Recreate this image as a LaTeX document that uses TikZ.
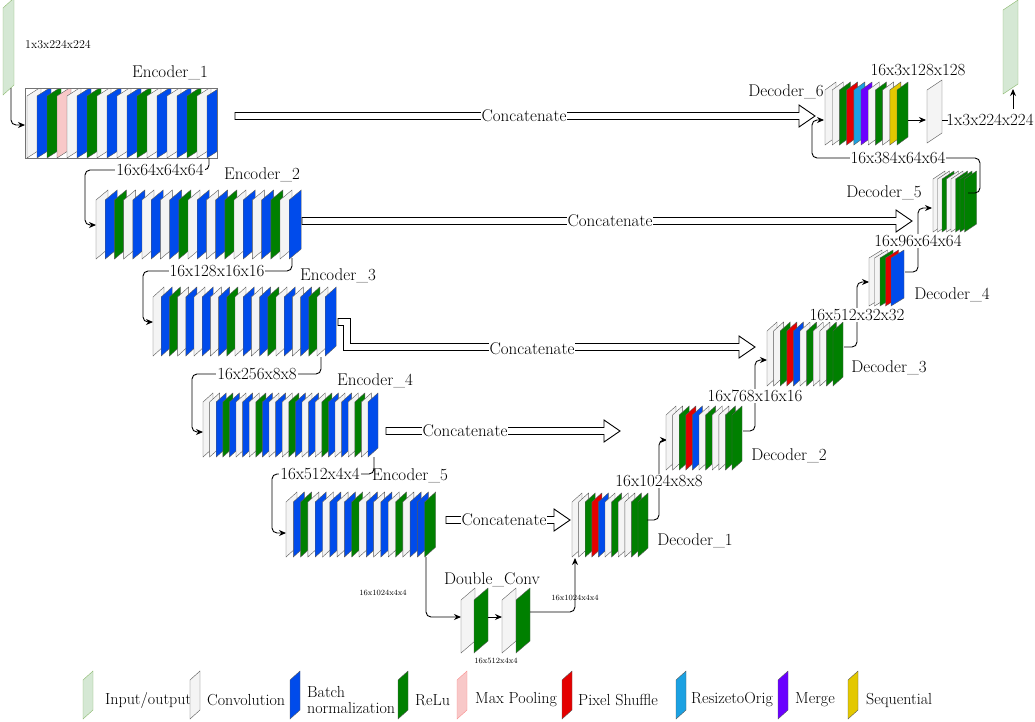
\documentclass[tikz,border=0pt]{standalone}
\usetikzlibrary{arrows.meta}
\newcommand\tf{\rmfamily}
\definecolor{cW}{RGB}{244,244,244}
\definecolor{cB}{RGB}{0,75,235}
\definecolor{cG}{RGB}{0,128,0}
\definecolor{cP}{RGB}{248,200,200}
\definecolor{cR}{RGB}{228,0,0}
\definecolor{cC}{RGB}{27,161,226}
\definecolor{cU}{RGB}{106,0,255}
\definecolor{cY}{RGB}{227,200,0}
\definecolor{cI}{RGB}{213,232,212}
\definecolor{cIb}{RGB}{140,185,110}
\tikzset{
  plate/.style={draw=black!65,line width=0.4pt},
  conn/.style={draw,line width=0.9pt,rounded corners=5pt,-{Stealth[length=7pt,width=6pt]}},
  line/.style={draw,line width=0.9pt,rounded corners=5pt},
  lab/.style={font=\tf\fontsize{17}{17}\selectfont,inner sep=1pt},
  lbl/.style={font=\tf\fontsize{17}{17}\selectfont,fill=white,inner sep=1pt},
  leg/.style={font=\tf\fontsize{16}{16.5}\selectfont,inner sep=1pt},
  tiny/.style={font=\tf\fontsize{8}{8}\selectfont,inner sep=1pt},
  small/.style={font=\tf\fontsize{12}{12}\selectfont,inner sep=1pt},
  hollow/.style={draw,line width=0.9pt,fill=white},
}
% #1 x0, #2 ybottom, #3 height, #4 spacing, #5 dx, #6 dy, #7 colours
\newcommand\blk[7]{%
  \foreach \c [count=\i from 0] in {#7} {
    \path[plate,fill=\c] ({#1+\i*#4},#2) -- ({#1+\i*#4},{#2-#3}) -- ({#1+\i*#4+#5},{#2-#3-#6}) -- ({#1+\i*#4+#5},{#2-#6}) -- cycle;
  }}
\newcommand\onep[6]{% x, yb, h, dx, dy, colour
  \path[plate,fill=#6] (#1,#2) -- (#1,{#2-#3}) -- ({#1+#4},{#2-#3-#5}) -- ({#1+#4},{#2-#5}) -- cycle;}
\newcommand\hol[3]{% x1 x2 y
  \path[hollow] (#1,{#3-3.5}) -- ({#2-16},{#3-3.5}) -- ({#2-16},{#3-11}) -- (#2,#3) -- ({#2-16},{#3+11}) -- ({#2-16},{#3+3.5}) -- (#1,{#3+3.5}) -- cycle;}
\begin{document}
\begin{tikzpicture}[x=1pt,y=-1pt]
\useasboundingbox (0,0) rectangle (1035,721);
% input
\path[plate,draw=cIb,fill=cI] (3,95) -- (3,8) -- (14,-2) -- (14,85) -- cycle;
\node[small] (inlab) at (58,45) {1x3x224x224};
% Encoder 1
\begin{scope}
\clip (25,88) rectangle (217,158);
\blk{27}{158}{62}{10}{14}{9}{cW,cB,cG,cP,cW,cB,cG,cW,cB,cW,cB,cG,cW,cB,cW,cB,cG,cW,cB}
\end{scope}
\draw[black!55,line width=0.6pt] (25,88) rectangle (217,158);
\node[lab] (e1) at (170,73) {Encoder\_1};
\coordinate (inb) at (11,88);
\coordinate (e1in) at (25,125);
\path[conn] (inb) -- (11,125) -- (e1in);
% Encoder 2
\blk{96}{259}{59}{9.2}{12}{10}{cW,cB,cG,cW,cB,cW,cB,cW,cB,cG,cW,cB,cW,cB,cG,cW,cB,cW,cB,cG,cW,cB}
\node[lab] (e2) at (262,175) {Encoder\_2};
\path[conn] (209,158) -- (209,170) -- (85,170) -- (85,225) -- (96,225);
\node[lbl] at (160,170) {16x64x64x64};
% Encoder 3
\blk{153}{356}{59}{8.2}{11}{10}{cW,cB,cG,cW,cB,cW,cB,cW,cB,cG,cW,cB,cW,cB,cG,cW,cB,cW,cB,cG,cW,cB}
\node[lab] (e3) at (338,276) {Encoder\_3};
\path[conn] (292,258) -- (292,271) -- (143,271) -- (143,322) -- (153,322);
\node[lbl] at (217,271) {16x128x16x16};
% Encoder 4
\blk{203}{457}{55}{6.6}{10}{9}{cW,cW,cB,cG,cB,cW,cB,cW,cG,cB,cW,cB,cW,cG,cB,cW,cB,cW,cG,cB,cW,cB,cW,cG,cW,cB}
\node[lab] (e4) at (375,381) {Encoder\_4};
\path[conn] (374,457) -- (374,474) -- (272,474) -- (272,533) -- (286,533);
\node[lbl] at (320,474) {16x512x4x4};
% Encoder 5
\blk{286}{557}{55}{7.3}{11}{10}{cW,cB,cG,cW,cB,cW,cB,cW,cB,cG,cW,cB,cW,cB,cW,cG,cW,cB,cB,cG}
\node[lab] (e5) at (410,476) {Encoder\_5};
\path[conn] (321,357) -- (321,374) -- (192,374) -- (192,432) -- (203,432);
\node[lbl] at (257,374) {16x256x8x8};
% Double conv
\onep{461}{653}{53}{14}{12}{cW}
\onep{474}{653}{53}{14}{12}{cG}
\onep{502}{653}{53}{14}{12}{cW}
\onep{516}{653}{53}{14}{12}{cG}
\node[lab] (dc) at (492,580) {Double\_Conv};
\path[conn] (426,557) -- (426,617) -- (461,617);
\path[conn] (488,617) -- (502,617);
\path[conn] (530,612) -- (575,612) -- (575,558);
\node[tiny] at (383,593) {16x1024x4x4};
\node[tiny] at (496,661) {16x512x4x4};
\node[tiny] at (575,598) {16x1024x4x4};
% Decoder 1
\blk{572}{557}{55}{6.6}{10}{9}{cW,cW,cG,cR,cB,cW,cG,cW,cW,cG,cG}
\node[lab] (d1) at (695,541) {Decoder\_1};
\path[conn] (647,520) -- (659,520) -- (659,440) -- (667,440);
\node[lbl] at (659,481) {16x1024x8x8};
% Decoder 2
\blk{666}{470}{55}{6.6}{10}{9}{cW,cW,cG,cR,cB,cW,cG,cW,cW,cG,cG}
\node[lab] (d2) at (789,456) {Decoder\_2};
\path[conn] (743,431) -- (755,431) -- (755,360) -- (767,360);
\node[lbl] at (755,396) {16x768x16x16};
% Decoder 3
\blk{767}{386}{55}{6.6}{10}{9}{cW,cW,cG,cR,cB,cW,cG,cW,cW,cG,cG}
\node[lab] (d3) at (889,368) {Decoder\_3};
\path[conn] (844,347) -- (857,347) -- (857,282) -- (869,282);
\node[lbl] at (857,315) {16x512x32x32};
% Decoder 4
\blk{869}{306}{48}{5.5}{13}{8}{cW,cW,cG,cR,cB}
\node[lab] (d4) at (952,295) {Decoder\_4};
\path[conn] (905,272) -- (918,272) -- (918,208) -- (932,208);
\node[lbl] at (918,241) {16x96x64x64};
% Decoder 5
\blk{933}{232}{53}{4.5}{12}{8}{cW,cW,cG,cW,cW,cG,cG,cG}
\node[lab] (d5) at (884,193) {Decoder\_5};
\path[conn] (968,193) -- (980,193) -- (980,158) -- (812,158) -- (812,120) -- (824,120);
\node[lbl] at (898,158) {16x384x64x64};
% Decoder 6
\blk{825}{145}{55}{7.2}{11}{8}{cW,cW,cG,cR,cC,cU,cW,cG,cW,cY,cG}
\node[lab] (d6) at (786,92) {Decoder\_6};
\node[lab] at (918,70) {16x3x128x128};
\path[conn] (908,120) -- (926,120);
\onep{927}{143}{53}{15}{10}{cW}
\path[line] (942,120) -- (948,120);
\node[lab] (o) at (990,120) {1x3x224x224};
\path[conn] (1013,109) -- (1013,89);
\path[plate,draw=cIb,fill=cI] (1003,94) -- (1003,10) -- (1018,0) -- (1018,84) -- cycle;
% Concatenate arrows
\hol{235}{815}{116}\node[lbl] at (524,116) {Concatenate};
\hol{302}{912}{221}\node[lbl] at (610,221) {Concatenate};
\path[hollow] (338,318.5) -- (350.5,318.5) -- (350.5,343.5) -- (739,343.5) -- (739,336) -- (755,347) -- (739,358) -- (739,350.5) -- (343.5,350.5) -- (343.5,325.5) -- (338,325.5) -- cycle;
\node[lbl] at (532,349) {Concatenate};
\hol{386}{620}{431}\node[lbl] at (465,431) {Concatenate};
\hol{446}{570}{520}\node[lbl] at (504,520) {Concatenate};
% legend
\path[plate,draw=cIb,fill=cI] (83,719) -- (83,680) -- (93,671) -- (93,710) -- cycle;
\node[leg,anchor=west] at (104,700) {Input/output};
\onep{190}{719}{39}{10}{9}{cW}
\node[leg,anchor=west] at (206,700) {Convolution};
\onep{290}{719}{39}{10}{9}{cB}
\node[leg,anchor=west,align=left] at (306,700) {Batch\\normalization};
\onep{398}{719}{39}{10}{9}{cG}
\node[leg,anchor=west] at (414,700) {ReLu};
\path[plate,draw=cP!70!red,fill=cP] (457,719) -- (457,680) -- (467,671) -- (467,710) -- cycle;
\node[leg,anchor=west] at (474,700) {Max Pooling};
\onep{562}{719}{39}{10}{9}{cR}
\node[leg,anchor=west] at (577,700) {Pixel Shuffle};
\onep{676}{719}{39}{10}{9}{cC}
\node[leg,anchor=west] at (690,700) {ResizetoOrig};
\onep{778}{719}{39}{10}{9}{cU}
\node[leg,anchor=west] at (794,700) {Merge};
\onep{848}{719}{39}{10}{9}{cY}
\node[leg,anchor=west] at (865,700) {Sequential};
\end{tikzpicture}
\end{document}
